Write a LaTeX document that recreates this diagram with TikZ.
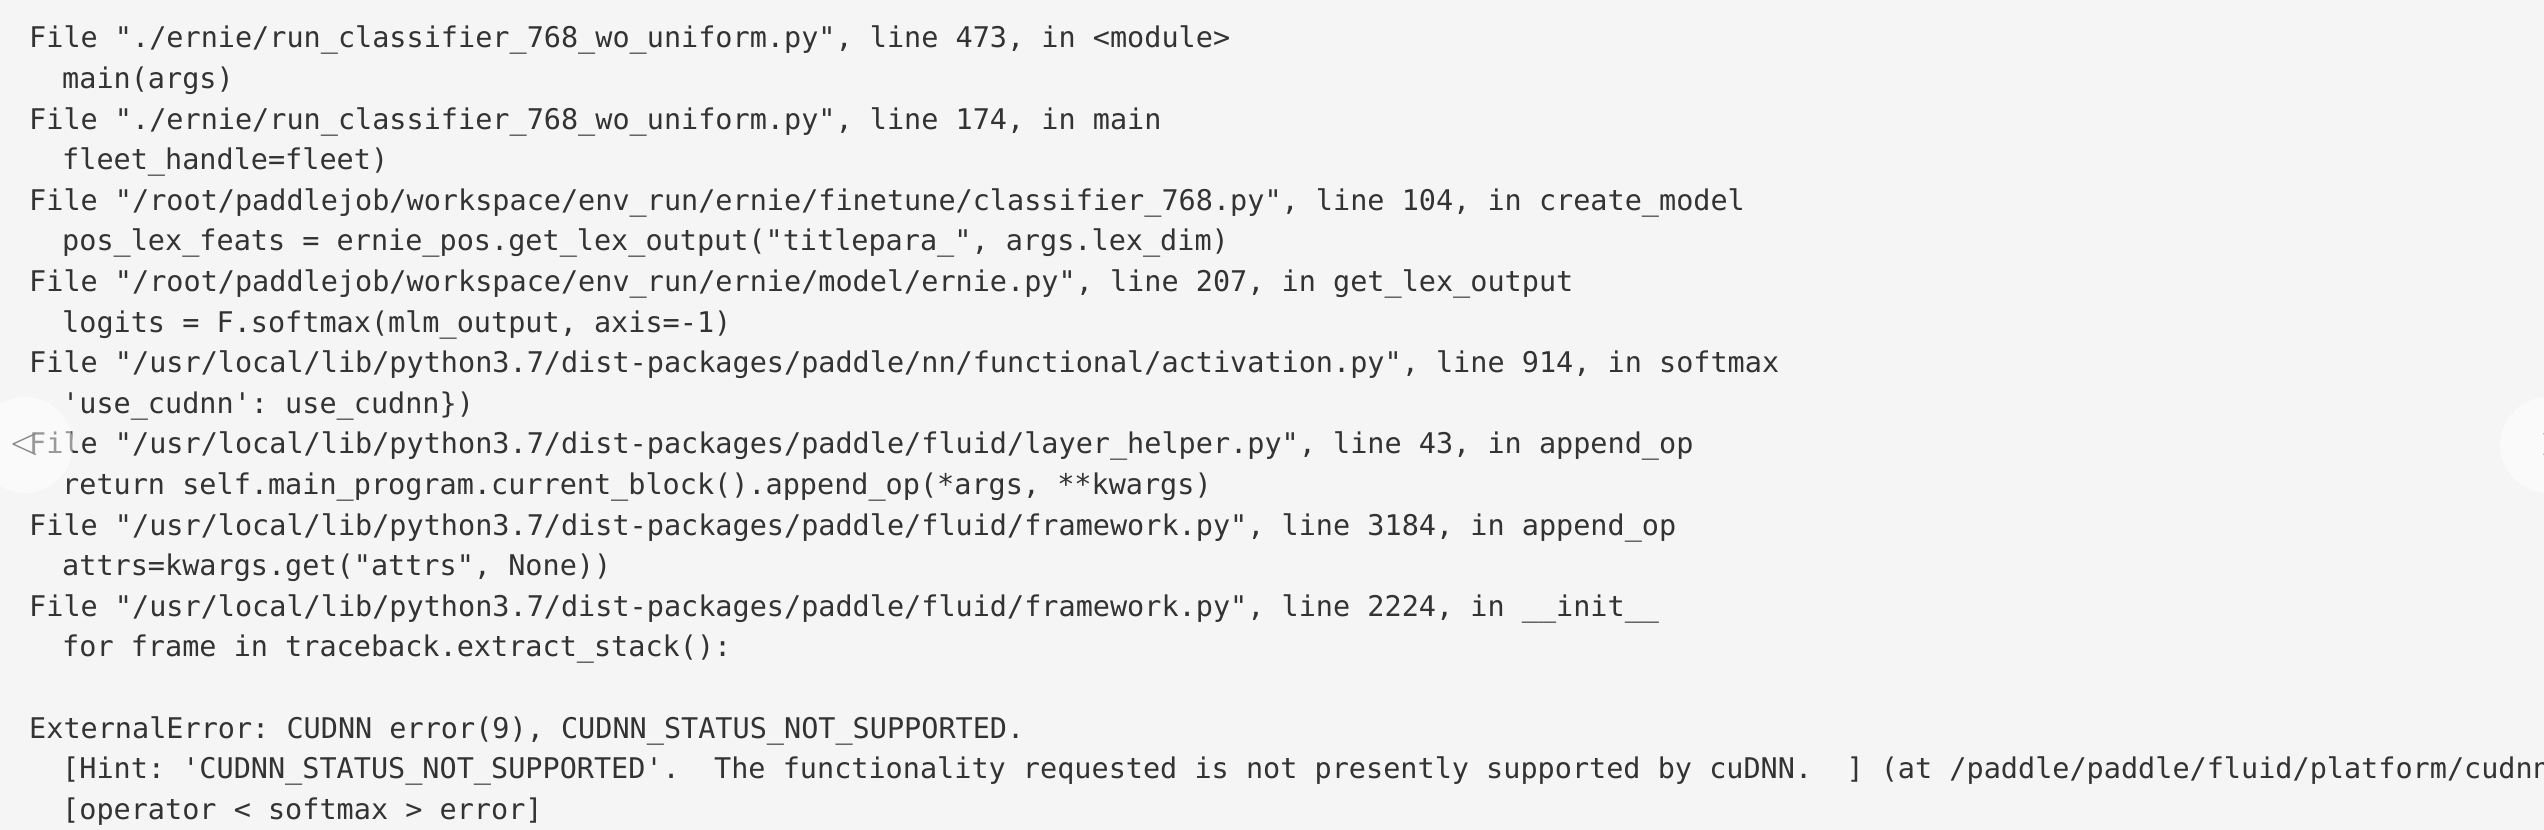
\documentclass[tikz,border=0pt]{standalone}
\usepackage{fontspec}
\setmonofont{DejaVu Sans Mono}
\usepackage{xcolor}
\usetikzlibrary{positioning}
\definecolor{pagebg}{HTML}{F5F5F5}
\definecolor{codefg}{HTML}{333333}
\definecolor{navfg}{HTML}{888888}

\begin{document}
\begin{tikzpicture}[x=1pt, y=1pt,
  codeline/.style={anchor=base west, inner sep=0pt, text=codefg, font=\ttfamily\fontsize{28.5}{28.5}\selectfont},
  navdisc/.style={circle, fill=white, fill opacity=0.5, minimum size=96pt, inner sep=0pt},
  navmark/.style={text=navfg, inner sep=0pt, font=\sffamily\fontsize{40}{40}\selectfont}
]
% page
\fill[pagebg] (0,0) rectangle (2544,830);
\useasboundingbox (0,0) rectangle (2544,830);

\begin{scope}[yshift=-6pt]
% Traceback lines
\node[codeline] (L1) at (29,788) {File "./ernie/run\_classifier\_768\_wo\_uniform.py", line 473, in <module>};
\node[codeline] (L2) at (62,747.4) {main(args)};
\node[codeline] (L3) at (29,706.8) {File "./ernie/run\_classifier\_768\_wo\_uniform.py", line 174, in main};
\node[codeline] (L4) at (62,666.2) {fleet\_handle=fleet)};
\node[codeline] (L5) at (29,625.6) {File "/root/paddlejob/workspace/env\_run/ernie/finetune/classifier\_768.py", line 104, in create\_model};
\node[codeline] (L6) at (62,585) {pos\_lex\_feats = ernie\_pos.get\_lex\_output("titlepara\_", args.lex\_dim)};
\node[codeline] (L7) at (29,544.4) {File "/root/paddlejob/workspace/env\_run/ernie/model/ernie.py", line 207, in get\_lex\_output};
\node[codeline] (L8) at (62,503.8) {logits = F.softmax(mlm\_output, axis=-1)};
\node[codeline] (L9) at (29,463.2) {File "/usr/local/lib/python3.7/dist-packages/paddle/nn/functional/activation.py", line 914, in softmax};
\node[codeline] (L10) at (62,422.6) {'use\_cudnn': use\_cudnn\})};
\node[codeline] (L11) at (29,382) {File "/usr/local/lib/python3.7/dist-packages/paddle/fluid/layer\_helper.py", line 43, in append\_op};
\node[codeline] (L12) at (62,341.4) {return self.main\_program.current\_block().append\_op(*args, **kwargs)};
\node[codeline] (L13) at (29,300.8) {File "/usr/local/lib/python3.7/dist-packages/paddle/fluid/framework.py", line 3184, in append\_op};
\node[codeline] (L14) at (62,260.2) {attrs=kwargs.get("attrs", None))};
\node[codeline] (L15) at (29,219.6) {File "/usr/local/lib/python3.7/dist-packages/paddle/fluid/framework.py", line 2224, in \_\_init\_\_};
\node[codeline] (L16) at (62,179) {for frame in traceback.extract\_stack():};

% Error message
\node[codeline] (E1) at (29,97.8) {ExternalError: CUDNN error(9), CUDNN\_STATUS\_NOT\_SUPPORTED.};
\node[codeline] (E2) at (62,57.2) {[Hint: 'CUDNN\_STATUS\_NOT\_SUPPORTED'.~~The functionality requested is not presently supported by cuDNN.~~] (at /paddle/paddle/fluid/platform/cudnn};
\node[codeline] (E3) at (62,16.6) {[operator < softmax > error]};
\end{scope}

% Carousel controls
\node[navdisc] (prevdisc) at (25,385) {};
\node[navmark] (prev) at (prevdisc) {\textless};
\node[navdisc] (nextdisc) at (2548,385) {};
\node[navmark, anchor=west] (next) at (2540,385) {\textgreater};
\end{tikzpicture}
\end{document}
